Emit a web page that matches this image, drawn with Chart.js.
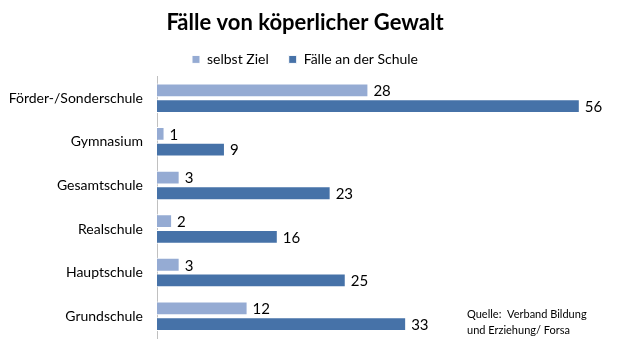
<!DOCTYPE html>
<html>
<head>
<meta charset="utf-8">
<script src="https://cdn.jsdelivr.net/npm/chart.js@4"></script>
<style>
  html, body { margin: 0; padding: 0; background: #fff; }
  #wrap { width: 620px; height: 347px; position: relative; }
</style>
</head>
<body>
<div id="wrap"><canvas id="chart" width="620" height="347"></canvas></div>
<script>
  // categories and values
  var categories = ['Förder-/Sonderschule', 'Gymnasium', 'Gesamtschule', 'Realschule', 'Hauptschule', 'Grundschule'];
  var selbstZiel = [28, 1, 3, 2, 3, 12];
  var faelleSchule = [56, 9, 23, 16, 25, 33];
  var seriesNames = ['selbst Ziel', 'Fälle an der Schule'];
  var sourceLines = ['Quelle:  Verband Bildung', 'und Erziehung/ Forsa'];

  var FONT = 'Lato, "Open Sans", sans-serif';

  // value labels at the end of each bar
  var barLabels = {
    id: 'barLabels',
    afterDatasetsDraw: function (chart) {
      var ctx = chart.ctx;
      ctx.save();
      ctx.font = '15px ' + FONT;
      ctx.fillStyle = '#000';
      ctx.textBaseline = 'middle';
      ctx.textAlign = 'left';
      chart.data.datasets.forEach(function (ds, i) {
        chart.getDatasetMeta(i).data.forEach(function (bar, j) {
          ctx.fillText(String(ds.data[j]), bar.x + 5, bar.y + 1);
        });
      });
      ctx.restore();
    }
  };

  var sourceNote = {
    id: 'sourceNote',
    afterDraw: function (chart) {
      var ctx = chart.ctx;
      ctx.save();
      ctx.font = '11px ' + FONT;
      ctx.fillStyle = '#000';
      ctx.textBaseline = 'middle';
      sourceLines.forEach(function (line, i) {
        ctx.fillText(line, 467, 314 + i * 16);
      });
      ctx.restore();
    }
  };

  new Chart(document.getElementById('chart'), {
    type: 'bar',
    data: {
      labels: categories,
      datasets: [{
        label: seriesNames[0],
        data: selbstZiel,
        backgroundColor: '#95abd3',
        borderColor: '#ffffff',
        borderWidth: 1,
        categoryPercentage: 0.72,
        barPercentage: 0.88
      }, {
        label: seriesNames[1],
        data: faelleSchule,
        backgroundColor: '#4672a8',
        borderColor: '#ffffff',
        borderWidth: 1,
        categoryPercentage: 0.72,
        barPercentage: 0.88
      }]
    },
    options: {
      indexAxis: 'y',
      responsive: false,
      animation: false,
      layout: { padding: { left: 0, right: 10, top: 10, bottom: 9 } },
      plugins: {
        title: {
          display: true,
          text: 'Fälle von köperlicher Gewalt',
          color: '#000',
          font: { family: FONT, size: 22, weight: 'bold' },
          padding: { top: 0, bottom: -4 }
        },
        legend: {
          display: true,
          labels: {
            color: '#000',
            font: { family: FONT, size: 14 },
            boxWidth: 8,
            boxHeight: 8,
            padding: 20
          }
        },
        tooltip: { enabled: false }
      },
      scales: {
        x: {
          min: 0,
          max: 60,
          display: false,
          grid: { display: false }
        },
        y: {
          grid: { display: false, drawTicks: false },
          border: { display: true, color: '#c0c0c0' },
          ticks: { color: '#000', font: { family: FONT, size: 14 }, padding: 14 },
          afterFit: function (scale) {
            scale.width = 157;
            // tick padding would otherwise add a vertical margin below the axis
            scale.paddingTop = 0;
            scale.paddingBottom = 0;
          }
        }
      }
    },
    plugins: [barLabels, sourceNote]
  });
</script>
</body>
</html>
